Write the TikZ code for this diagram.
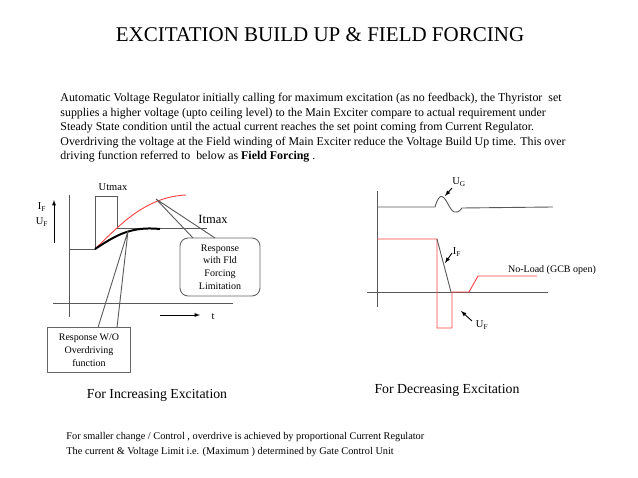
\documentclass[tikz,border=0pt]{standalone}
\usepackage{fontspec}
\setmainfont{Liberation Serif}
\usetikzlibrary{arrows,calc}
\begin{document}
\begin{tikzpicture}[x=1pt,y=-1pt,line width=0.9pt,
  gr/.style={draw=black!65},
  rd/.style={draw=red!75!white},
  lbl/.style={font=\fontsize{10.5}{11}\selectfont,inner sep=0pt}]
\useasboundingbox (0,0) rectangle (638,478);

\node[font=\fontsize{21}{24}\selectfont] (title) at (320,35) {EXCITATION BUILD UP \& FIELD FORCING};
\node[anchor=north west,align=left,inner sep=0pt,font=\fontsize{11.9}{14.4}\selectfont] (intro) at (60,93)
 {Automatic Voltage Regulator initially calling for maximum excitation (as no feedback), the Thyristor\ \ set\\
 supplies a higher voltage (upto ceiling level) to the Main Exciter compare to actual requirement under\\
 Steady State condition until the actual current reaches the set point coming from Current Regulator.\\
 Overdriving the voltage at the Field winding of Main Exciter reduce the Voltage Build Up time. This over\\
 driving function referred to\ \ below as \textbf{Field Forcing} .};

% increasing excitation
\draw[gr] (69,195) -- (69,317);
\draw[gr] (53,303) -- (233,303);
\draw[-latex] (54,243) -- (54,200);
\node[lbl] (IF1) at (42,207) {I\textsubscript{F}};
\node[lbl] (UF1) at (42,222) {U\textsubscript{F}};
\draw[gr] (69,249) -- (95,249) -- (95,196) -- (117,196) -- (117,228) -- (207,228);
\node[lbl] (utmax) at (113,187) {Utmax};
\node[font=\fontsize{12.5}{12}\selectfont] (itmax) at (213,219) {Itmax};
\draw[rd] (95,249) .. controls (120,225) and (145,197) .. (186,195);
\draw[line width=2pt] (95,249) .. controls (115,236) and (130,226) .. (160,229);
\node[draw=black!60,rounded corners=8pt,minimum width=80,minimum height=58,align=center,inner sep=1pt,
  font=\fontsize{10}{12.8}\selectfont] (fld) at (220,267) {Response\\with Fld\\Forcing\\Limitation};
\draw[gr] (156,199) -- (193,238) (156,199) -- (215,238);
\node[draw=black!60,minimum width=83,minimum height=45,align=center,
  font=\fontsize{10}{13}\selectfont,inner sep=1pt] (wo) at (89,350) {Response W/O\\Overdriving\\function};
\draw[gr] (128,231) -- (98,327.5) (128,231) -- (117,327.5);
\draw[-latex] (160,315) -- (200,315);
\node[lbl] (t) at (213,317) {t};

% decreasing excitation
\draw[gr] (377,191) -- (377,307);
\draw[gr] (377,207) -- (435,207) .. controls (440,190) and (444,197) .. (448,204)
  .. controls (452,212) and (456,216) .. (462,208) -- (553,207);
\node[lbl] (UG) at (459,182) {U\textsubscript{G}};
\draw[-latex] (452,188) -- (445,196);
\draw[gr] (367,292) -- (548,292);
\draw[rd] (377,239) -- (437,239) -- (437,328) -- (452,328) -- (452,292) -- (469,292) -- (478,276) -- (537,276);
\draw[gr] (437,239) -- (451,292);
\node[lbl] (IF2) at (457,252) {I\textsubscript{F}};
\draw[-latex] (452,253) -- (445,263);
\node[lbl] (UF2) at (482,325) {U\textsubscript{F}};
\draw[-latex] (472,321) -- (461,311);
\node[lbl,font=\fontsize{10}{11}\selectfont] (noload) at (552,270) {No-Load (GCB open)};

\node[font=\fontsize{13.8}{15}\selectfont] (inc) at (157,395) {For Increasing Excitation};
\node[font=\fontsize{13.8}{15}\selectfont] (dec) at (447,390) {For Decreasing Excitation};
\node[anchor=north west,align=left,inner sep=0pt,font=\fontsize{10.3}{15}\selectfont] (notes) at (66,432)
 {For smaller change / Control , overdrive is achieved by proportional Current Regulator\\
  The current \& Voltage Limit i.e. (Maximum ) determined by Gate Control Unit};
\end{tikzpicture}
\end{document}
